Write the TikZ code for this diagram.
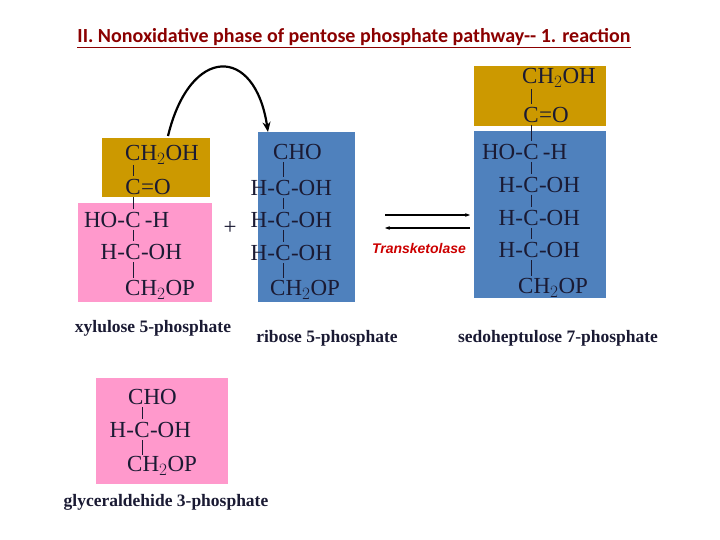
\documentclass[tikz,border=0pt]{standalone}
\usepackage{fontspec}
\usetikzlibrary{arrows.meta}
\setmainfont{Liberation Serif}
\newfontfamily\titlefont{Carlito}
\newfontfamily\enzfont{Liberation Sans}
\definecolor{gold}{HTML}{CC9900}
\definecolor{pinkb}{HTML}{FF99CC}
\definecolor{blueb}{HTML}{4F81BD}
\definecolor{ink}{HTML}{1A1A33}
\definecolor{titlered}{HTML}{8B0000}
\begin{document}
\begin{tikzpicture}[x=1pt,y=-1pt,
  chem/.style={font=\fontsize{23}{26}\selectfont, text=ink, inner sep=0pt},
  lbl/.style={font=\fontsize{17.5}{20}\selectfont\bfseries, text=ink, inner sep=0pt},
  bond/.style={draw=ink, line width=0.7pt},
  arr/.style={-{Stealth[length=10pt,width=8pt]}, line width=2.2pt}]
\useasboundingbox (0,0) rectangle (720,540);
% boxes
\fill[gold] (102,138) rectangle (210,197);
\fill[pinkb] (78,203) rectangle (212,302);
\fill[blueb] (258,132) rectangle (355,302);
\fill[gold] (474,66) rectangle (606,126);
\fill[blueb] (474,131) rectangle (606,298);
\fill[pinkb] (96,378) rectangle (228,484);
% title
\node[font=\titlefont\bfseries\fontsize{20}{22}\selectfont, text=titlered, inner sep=0pt] (title) at (354,38) {\underline{II. Nonoxidative phase of pentose phosphate pathway-- 1. reaction}};
% xylulose
\node[chem, anchor=west] (x1) at (125,155) {CH$_2$OH};
\node[chem] (x2) at (133,187) {C};
\node[chem, anchor=west] at (x2.east) {=O};
\node[chem] (x3) at (133,220) {C};
\node[chem, anchor=east] at (x3.west) {HO-};
\node[chem, anchor=west] at (x3.east) {\,-H};
\node[chem] (x4) at (133,252) {C};
\node[chem, anchor=east] at (x4.west) {H-};
\node[chem, anchor=west] at (x4.east) {-OH};
\node[chem, anchor=west] (x5) at (125,290) {CH$_2$OP};
\draw[bond] (133,165) -- (133,176);
\draw[bond] (133,197) -- (133,209);
\draw[bond] (133,230) -- (133,241);
\draw[bond] (133,262) -- (133,278);
\node[lbl] (xl) at (153,328) {xylulose 5-phosphate};
% plus
\node[chem] (plus) at (230,228) {+};
% ribose
\node[chem, anchor=west] (r1) at (273,152) {CHO};
\node[chem] (r2) at (283,188) {C};
\node[chem, anchor=east] at (r2.west) {H-};
\node[chem, anchor=west] at (r2.east) {-OH};
\node[chem] (r3) at (283,220) {C};
\node[chem, anchor=east] at (r3.west) {H-};
\node[chem, anchor=west] at (r3.east) {-OH};
\node[chem] (r4) at (283,253) {C};
\node[chem, anchor=east] at (r4.west) {H-};
\node[chem, anchor=west] at (r4.east) {-OH};
\node[chem, anchor=west] (r5) at (270,290) {CH$_2$OP};
\draw[bond] (283,162) -- (283,177);
\draw[bond] (283,198) -- (283,209);
\draw[bond] (283,230) -- (283,242);
\draw[bond] (283,263) -- (283,278);
\node[lbl] (rl) at (327,338) {ribose 5-phosphate};
% curved arrow
\coordinate (cs) at (168,136);
\coordinate (ce) at (268,132);
\draw[arr] (cs) .. controls (190,45) and (255,45) .. (ce);
% equilibrium arrows
\coordinate (a1) at (385,215);
\coordinate (a2) at (470,215);
\coordinate (b1) at (470,228);
\coordinate (b2) at (385,228);
\draw[-{Stealth[length=5pt]}, line width=1.3pt] (a1) -- (a2);
\draw[-{Stealth[length=5pt]}, line width=1.3pt] (b1) -- (b2);
\node[font=\enzfont\bfseries\itshape\fontsize{14}{16}\selectfont, text=red!80!black, inner sep=0pt] (enz) at (419,248) {Transketolase};
% sedoheptulose
\node[chem, anchor=west] (s1) at (522,78) {CH$_2$OH};
\node[chem] (s2) at (531,115) {C};
\node[chem, anchor=west] at (s2.east) {=O};
\node[chem] (s3) at (531,152) {C};
\node[chem, anchor=east] at (s3.west) {HO-};
\node[chem, anchor=west] at (s3.east) {\,-H};
\node[chem] (s4) at (531,185) {C};
\node[chem, anchor=east] at (s4.west) {H-};
\node[chem, anchor=west] at (s4.east) {-OH};
\node[chem] (s5) at (531,218) {C};
\node[chem, anchor=east] at (s5.west) {H-};
\node[chem, anchor=west] at (s5.east) {-OH};
\node[chem] (s6) at (531,250) {C};
\node[chem, anchor=east] at (s6.west) {H-};
\node[chem, anchor=west] at (s6.east) {-OH};
\node[chem, anchor=west] (s7) at (518,288) {CH$_2$OP};
\draw[bond] (531,89) -- (531,104);
\draw[bond] (531,125) -- (531,141);
\draw[bond] (531,162) -- (531,174);
\draw[bond] (531,195) -- (531,207);
\draw[bond] (531,228) -- (531,239);
\draw[bond] (531,260) -- (531,276);
\node[lbl] (sl) at (558,338) {sedoheptulose 7-phosphate};
% glyceraldehyde
\node[chem, anchor=west] (g1) at (128,397) {CHO};
\node[chem] (g2) at (142,430) {C};
\node[chem, anchor=east] at (g2.west) {H-};
\node[chem, anchor=west] at (g2.east) {-OH};
\node[chem, anchor=west] (g3) at (127,466) {CH$_2$OP};
\draw[bond] (142,407) -- (142,419);
\draw[bond] (142,440) -- (142,455);
\node[lbl] (gl) at (166,502) {glyceraldehide 3-phosphate};
\end{tikzpicture}
\end{document}
